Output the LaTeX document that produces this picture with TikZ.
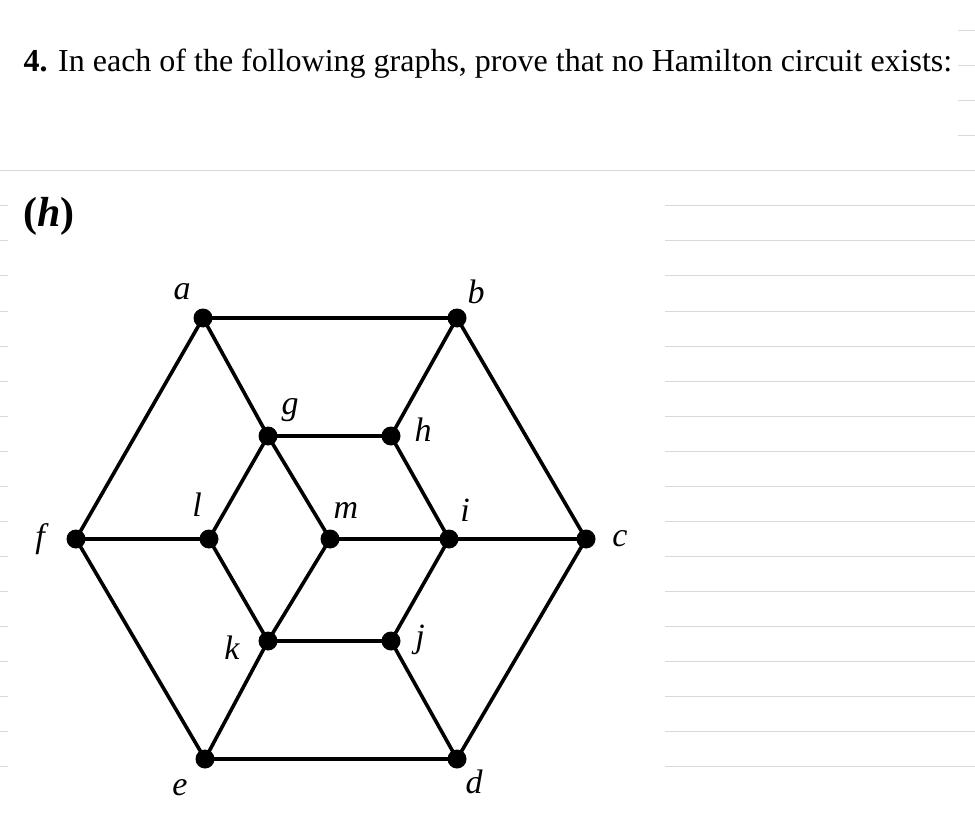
\documentclass[tikz,border=0pt]{standalone}
\usepackage{fontspec}
\setmainfont{Liberation Serif}
\begin{document}
\begin{tikzpicture}[x=1pt,y=-1pt,
  vert/.style={circle,fill=black,inner sep=0pt,minimum size=19pt},
  lab/.style={font=\fontsize{34}{34}\selectfont\itshape},
  edge/.style={line width=3.6pt},
  rule/.style={gray!30,line width=1pt}]
\useasboundingbox (0,0) rectangle (975,821);
% ruled paper
\draw[rule] (0,171) -- (975,171);
\foreach \y in {31,66,101,136} \draw[rule] (958,\y) -- (975,\y);
\foreach \y in {206,241,...,800} \draw[rule] (665,\y) -- (975,\y);
\foreach \y in {206,241,...,800} \draw[rule] (0,\y) -- (8,\y);
\node[anchor=west,font=\fontsize{32}{32}\selectfont] (title) at (20,64) {\textbf{4.} In each of the following graphs, prove that no Hamilton circuit exists:};
\node[anchor=west,font=\fontsize{42}{42}\selectfont\bfseries] (part) at (20,216) {(\textit{h})};
\node[vert] (a) at (203,318) {};
\node[vert] (b) at (457,318) {};
\node[vert] (c) at (586,539) {};
\node[vert] (d) at (457,759) {};
\node[vert] (e) at (205,759) {};
\node[vert] (f) at (76,539) {};
\node[vert] (g) at (268,436) {};
\node[vert] (h) at (391,436) {};
\node[vert] (i) at (449,539) {};
\node[vert] (j) at (391,641) {};
\node[vert] (k) at (268,641) {};
\node[vert] (l) at (209,539) {};
\node[vert] (m) at (330,539) {};
\foreach \u/\v in {a/b,b/c,c/d,d/e,e/f,f/a,a/g,b/h,g/h,g/l,g/m,h/i,f/l,i/c,m/i,l/k,m/k,i/j,k/j,k/e,j/d}
  \draw[edge] (\u.center) -- (\v.center);
\node[lab] (la) at (182,292) {a};
\node[lab] (lb) at (476,292) {b};
\node[lab] (lc) at (620,539) {c};
\node[lab] (ld) at (474,782) {d};
\node[lab] (le) at (180,788) {e};
\node[lab] (lf) at (40,539) {f};
\node[lab] (lg) at (290,410) {g};
\node[lab] (lh) at (423,430) {h};
\node[lab] (li) at (465,510) {i};
\node[lab] (lj) at (420,640) {j};
\node[lab] (lk) at (232,648) {k};
\node[lab] (ll) at (197,505) {l};
\node[lab] (lm) at (346,510) {m};
\end{tikzpicture}
\end{document}
